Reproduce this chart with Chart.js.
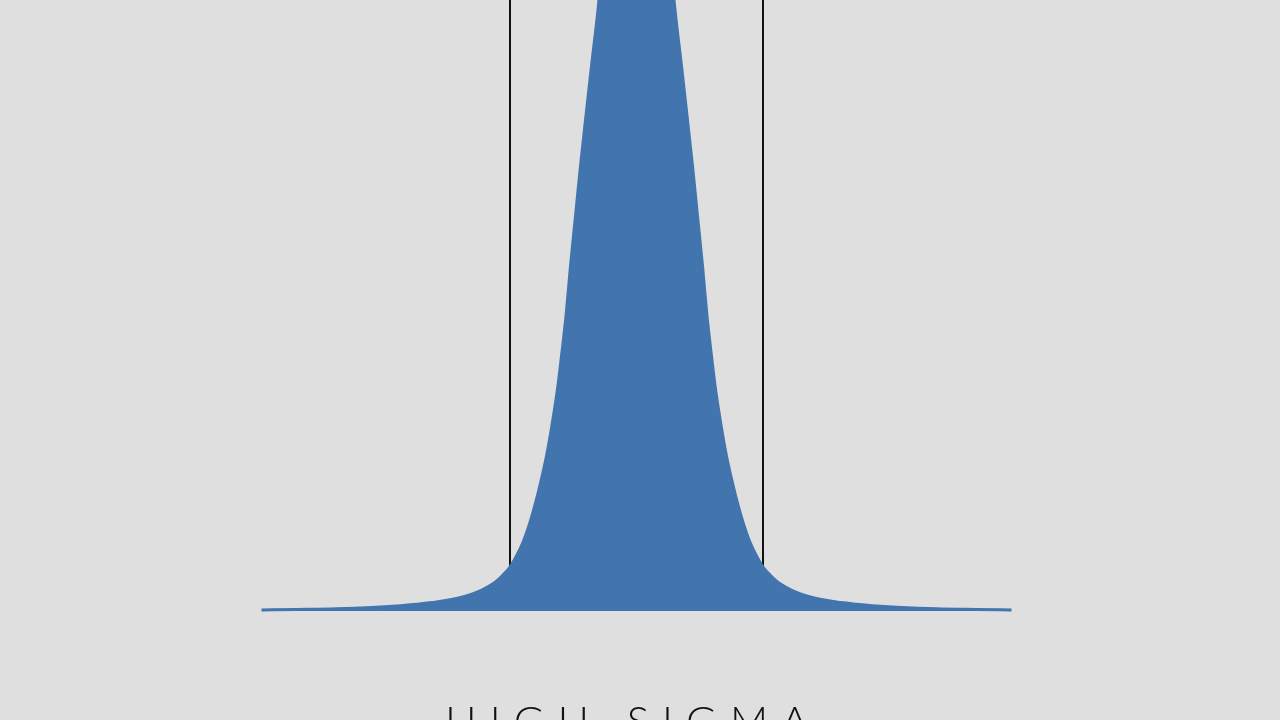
<!DOCTYPE html>
<html>
<head>
<meta charset="utf-8">
<script src="https://cdn.jsdelivr.net/npm/chart.js@4.4.1/dist/chart.umd.min.js"></script>
<style>
  html, body { margin: 0; padding: 0; background: #dfdfdf; }
  #wrap { position: relative; width: 1280px; height: 720px; overflow: hidden; }
  #label {
    position: absolute; left: 445px; top: 699px;
    font-family: "Lato", sans-serif; font-weight: 300; font-size: 42px;
    line-height: 42px; letter-spacing: 13px; color: #111; white-space: nowrap;
  }
</style>
</head>
<body>
<div id="wrap">
  <canvas id="chart" width="1280" height="720"></canvas>
  <div id="label">HIGH SIGMA</div>
</div>
<script>
// distribution profile: offset from the centre and density height
const offsets = [-375, -340, -300, -265, -240, -220, -200, -185, -172, -160, -150, -141, -134, -126.5, -120, -113, -107, -101.5, -96, -90, -85, -79, -75, -70.5, -66, -61, -56, -51, -45, -37.5, -30, -20, -10, 0,
                 10, 20, 30, 37.5, 45, 51, 56, 61, 66, 70.5, 75, 79, 85, 90, 96, 101.5, 107, 113, 120, 126.5, 134, 141, 150, 160, 172, 185, 200, 220, 240, 265, 300, 340, 375];
const density = [1, 1.5, 2.2, 3.5, 5, 6.8, 9, 11.5, 14.5, 18.5, 23.5, 29, 35.5, 44, 55, 70, 87, 106, 128, 155, 183, 222, 255, 295, 345, 395, 445, 491, 545, 611, 700, 790, 860, 900,
                 860, 790, 700, 611, 545, 491, 445, 395, 345, 295, 255, 222, 183, 155, 128, 106, 87, 70, 55, 44, 35.5, 29, 23.5, 18.5, 14.5, 11.5, 9, 6.8, 5, 3.5, 2.2, 1.5, 1];

// sigma bounds (vertical lines)
const boundX = [-126.5, 126.5];
const boundLow = 44;
const boundHigh = 700;

const curve = offsets.map((x, i) => ({ x: x, y: density[i] }));

const datasets = [{
  data: curve,
  borderColor: '#4274ae',
  backgroundColor: '#4274ae',
  borderWidth: 3,
  fill: 'origin',
  pointRadius: 0,
  cubicInterpolationMode: 'monotone'
}];
boundX.forEach(function(bx) {
  datasets.push({
    data: [{ x: bx, y: boundLow }, { x: bx, y: boundHigh }],
    borderColor: '#111111',
    borderWidth: 2,
    pointRadius: 0,
    fill: false
  });
});

new Chart(document.getElementById('chart').getContext('2d'), {
  type: 'line',
  data: { datasets: datasets },
  options: {
    responsive: false,
    animation: false,
    layout: { padding: 0 },
    plugins: { legend: { display: false }, tooltip: { enabled: false } },
    scales: {
      x: { type: 'linear', min: -636.5, max: 643.5, display: false },
      y: { min: -109, max: 611, display: false }
    }
  }
});
</script>
</body>
</html>
